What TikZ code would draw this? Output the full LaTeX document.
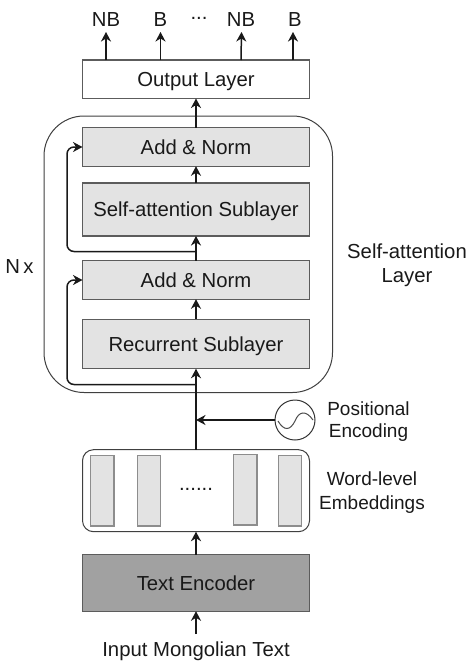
\documentclass[tikz,border=0pt]{standalone}
\usepackage{fontspec}
\setmainfont{Liberation Sans}
\usetikzlibrary{arrows.meta,calc}
\definecolor{edgegray}{gray}{0.36}
\definecolor{lightfill}{gray}{0.89}
\definecolor{darkfill}{gray}{0.63}
\tikzset{
  x=1pt,y=-1pt,
  every node/.style={font=\fontsize{20.3}{24}\selectfont,inner sep=0pt,outer sep=0pt,text=black!90},
  boxbase/.style={draw=edgegray,line width=1.1pt,minimum width=227pt,anchor=center,text height=14.5pt,text depth=0pt},
  whitebox/.style={boxbase,fill=white},
  graybox/.style={boxbase,fill=lightfill},
  darkbox/.style={boxbase,fill=darkfill},
  vecbox/.style={draw=edgegray!70,line width=1.1pt,fill=lightfill,minimum width=23.5pt,minimum height=70.5pt},
  lab/.style={align=center},
  smalllab/.style={align=center,font=\fontsize{19}{24}\selectfont},
  flow/.style={draw=black!90,line width=1.5pt,-{Stealth[length=9.5pt,width=10pt,inset=3pt]}},
  skip/.style={flow,rounded corners=7pt}
}
\begin{document}
\begin{tikzpicture}
\useasboundingbox (0,0) rectangle (474,667);
% containers
\node[draw=black!75,line width=1pt,rounded corners=40pt,fill=white,minimum width=288.5pt,minimum height=276.5pt] (layer) at (188.25,254.25) {};
\node[draw=black!75,line width=1pt,rounded corners=11pt,fill=white,minimum width=227pt,minimum height=82pt] (embed) at (196,490.7) {};
% boxes
\node[whitebox,minimum height=38.5pt] (out) at (196,79.25) {Output Layer};
\node[graybox,minimum height=38.5pt] (norma) at (196,147) {Add \& Norm};
\node[graybox,minimum height=53pt] (self) at (196,209.5) {Self-attention Sublayer};
\node[graybox,minimum height=38.5pt] (normb) at (196,280) {Add \& Norm};
\node[graybox,minimum height=49.5pt] (rec) at (196,344) {Recurrent Sublayer};
\node[darkbox,minimum height=56.5pt] (enc) at (196,583) {Text Encoder};
% embedding vectors
\node[vecbox] (v1) at (102.2,490.7) {};
\node[vecbox] (v2) at (149,490.7) {};
\node[vecbox] (v3) at (245.2,489.7) {};
\node[vecbox] (v4) at (290,490.7) {};
\node (vdots) at (196,489) {......};
% labels
\node (t1) at (106,20) {NB};
\node (t2) at (160.5,20) {B};
\node (t3) at (199,18) {...};
\node (t4) at (241,20) {NB};
\node (t5) at (295,20) {B};
\node (nx) at (19.5,267) {N\,x};
\node[lab] (sal) at (407,265) {Self-attention\\Layer};
\node[smalllab] (pe) at (368.5,422) {Positional\\[-2pt]Encoding};
\node[smalllab] (wle) at (372,493) {Word-level\\Embeddings};
\node (inp) at (196,651) {Input Mongolian Text};
% positional encoder
\node[draw=black!80,line width=1pt,circle,minimum size=40pt,fill=white] (sine) at (295,420) {};
\draw[black!70,line width=1pt] ($(sine)+(-17,1)$) .. controls ($(sine)+(-11,11)$) and ($(sine)+(-5,11)$) .. ($(sine)+(0,1)$) .. controls ($(sine)+(4,-9)$) and ($(sine)+(11,-10)$) .. ($(sine)+(18,0)$);
% free ends
\coordinate (a1) at (106,60);
\coordinate (a1t) at (106,32);
\coordinate (a2) at (160.5,60);
\coordinate (a2t) at (160.5,32);
\coordinate (a3) at (241,60);
\coordinate (a3t) at (241.5,32);
\coordinate (a4) at (293,60);
\coordinate (a4t) at (293,32);
\coordinate (j1) at (196,251.5);
\coordinate (j2) at (196,384.5);
\coordinate (j3) at (196,420);
\coordinate (inb) at (196,634);
\coordinate (n1) at (82.5,147);
\coordinate (n2) at (82.5,280);
% connectors
\draw[flow] (a1) -- (a1t);
\draw[flow] (a2) -- (a2t);
\draw[flow] (a3) -- (a3t);
\draw[flow] (a4) -- (a4t);
\draw[flow] (norma.north) -- (out.south);
\draw[flow] (self.north) -- (norma.south);
\draw[flow] (normb.north) -- (self.south);
\draw[flow] (rec.north) -- (normb.south);
\draw[flow] (embed.north) -- (rec.south);
\draw[flow] (enc.north) -- (embed.south);
\draw[flow] (inb) -- (enc.south);
\draw[flow] (sine.west) -- (j3);
\draw[skip] (j1) -| (67,147) -- (n1);
\draw[skip] (j2) -| (67,280) -- (n2);
\end{tikzpicture}
\end{document}
